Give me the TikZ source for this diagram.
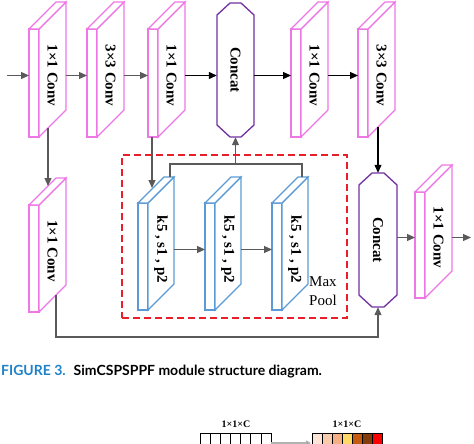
\documentclass[tikz,border=0pt]{standalone}
\usepackage{fontspec}
\setmainfont{Liberation Serif}
\newfontfamily\capfont{Lato}
\usetikzlibrary{arrows.meta,calc}
\definecolor{pinkc}{RGB}{238,119,230}
\definecolor{bluec}{RGB}{91,155,213}
\definecolor{purc}{RGB}{112,48,160}
\definecolor{redc}{RGB}{232,30,40}
\definecolor{grayc}{RGB}{90,90,90}
\definecolor{capblue}{RGB}{30,130,200}
\definecolor{h1}{RGB}{252,228,214}
\definecolor{h2}{RGB}{248,203,173}
\definecolor{h3}{RGB}{244,176,132}
\definecolor{h4}{RGB}{255,217,102}
\definecolor{h5}{RGB}{197,90,17}
\definecolor{h6}{RGB}{132,60,12}
\definecolor{h7}{RGB}{255,0,0}
\begin{document}
\begin{tikzpicture}[x=1pt,y=-1pt,
  slabline/.style={line width=1.1pt, line join=miter},
  garr/.style={draw=grayc, line width=1.1pt, -{Triangle[length=8pt,width=7pt]}},
  gline/.style={draw=grayc, line width=1.1pt},
  karr/.style={draw=black, line width=1.2pt, -{Triangle[length=8pt,width=7pt]}},
  lbl/.style={font=\bfseries\fontsize{15}{15}\selectfont, rotate=-90, inner sep=0pt},
  pics/slab/.style n args={4}{code={
    \draw[#1, slabline, fill=white] (0,0) rectangle (10,#2);
    \draw[#1, slabline, fill=white] (10,0) -- ({10+#3},{-#3}) -- ({10+#3},{#2-#3}) -- (10,#2) -- cycle;
    \draw[#1, slabline, fill=white] (0,0) -- (#3,{-#3}) -- ({10+#3},{-#3}) -- (10,0) -- cycle;
    \node[lbl] (-t) at ({10+#3/2}, {#2/2-#3/2+6}) {#4};
    \coordinate (-w) at (0, {#2/2-#3/2+6});
    \coordinate (-e) at ({10+#3}, {#2/2-#3/2+6});
  }},
  pics/concat/.style n args={2}{code={
    \draw[purc, line width=1.3pt, fill=white]
      ({-#1/2},{-#2/2+12}) -- ({-#1/2+13},{-#2/2}) -- ({#1/2-13},{-#2/2}) -- ({#1/2},{-#2/2+12})
      -- ({#1/2},{#2/2-12}) -- ({#1/2-13},{#2/2}) -- ({-#1/2+13},{#2/2}) -- ({-#1/2},{#2/2-12}) -- cycle;
    \node[minimum width=#1pt, minimum height=#2pt, inner sep=0pt] (-n) at (0,0) {};
    \node[lbl] (-t) at (0,0) {Concat};
  }}]
\useasboundingbox (0,0) rectangle (474,444);

% top row
\pic (b1) at (29,29) {slab={pinkc}{108}{27}{1×1 Conv}};
\pic (b2) at (87,29) {slab={pinkc}{108}{27}{3×3 Conv}};
\pic (b3) at (148,29) {slab={pinkc}{108}{27}{1×1 Conv}};
\pic (cc1) at (235.5,70) {concat={37}{134}};
\pic (b4) at (291,29) {slab={pinkc}{108}{27}{1×1 Conv}};
\pic (b5) at (358,29) {slab={pinkc}{108}{27}{3×3 Conv}};

% lower row
\pic (bl) at (29,205) {slab={pinkc}{107}{27}{1×1 Conv}};
\node[draw=redc, line width=1.2pt, dash pattern=on 7pt off 4pt, minimum width=225pt, minimum height=163pt, inner sep=0pt] (mp) at (234.5,236.5) {};
\pic (pA) at (138,203) {slab={bluec}{107}{26}{k5 , s1 , p2}};
\pic (pB) at (205,203) {slab={bluec}{107}{26}{k5 , s1 , p2}};
\pic (pC) at (272,203) {slab={bluec}{107}{26}{k5 , s1 , p2}};
\node[anchor=west, align=left, inner sep=0pt, font=\fontsize{15}{19}\selectfont] (mpt) at (309,291) {Max\\Pool};
\pic (cc2) at (378,240) {concat={38}{134}};
\pic (bf) at (415,192) {slab={pinkc}{106}{27}{1×1 Conv}};

% junction coordinates
\coordinate (in) at (7,0);
\coordinate (out) at (471,0);
\coordinate (j1) at (48,128);
\coordinate (j2) at (48,186);
\coordinate (j3) at (152,137);
\coordinate (j4) at (152,188);
\coordinate (pa) at (170,177);
\coordinate (pc) at (302,177);
\coordinate (ptop) at (0,164);
\coordinate (j5) at (378,127);
\coordinate (j6) at (56,295);
\coordinate (bot) at (0,337);

% connectors
\draw[garr] (in |- b1-w) -- (b1-w);
\draw[garr] (b1-e) -- (b2-w);
\draw[garr] (b2-e) -- (b3-w);
\draw[karr] (b3-e) -- (b3-e -| cc1-n.west);
\draw[karr] (cc1-n.east |- b4-w) -- (b4-w);
\draw[karr] (b4-e) -- (b5-w);
\draw[garr] (j1) -- (j2);
\draw[garr] (j3) -- (j4);
\draw[gline] (pa) -- (pa |- ptop) -- (pc |- ptop) -- (pc);
\draw[garr] (cc1-n.south |- ptop) -- (cc1-n.south);
\draw[garr] (pA-e) -- (pB-w);
\draw[garr] (pB-e) -- (pC-w);
\draw[karr] (j5) -- (cc2-n.north);
\draw[garr] (j6) -- (j6 |- bot) -| (cc2-n.south);
\draw[garr] (cc2-n.east |- bf-w) -- (bf-w);
\draw[garr] (bf-e) -- (bf-e -| out);

% caption
\node[anchor=base west, inner sep=0pt] (cap) at (1,375) {\capfont\bfseries\fontsize{14}{14}\selectfont\textcolor{capblue}{FIGURE 3.}\hspace{8pt}SimCSPSPPF module structure diagram.};

% bottom partial figure
\node[font=\bfseries\fontsize{10}{10}\selectfont, inner sep=0pt] (l1) at (236,424) {1×1×C};
\node[font=\bfseries\fontsize{10}{10}\selectfont, inner sep=0pt] (l2) at (347,424) {1×1×C};
\begin{scope}
\clip (0,0) rectangle (474,444);
\foreach \i in {0,...,6} {
  \draw[black, line width=0.6pt, fill=white] ({200+\i*10.14},433) rectangle ++(10.14,15);
}
\foreach \c [count=\i from 0] in {h1,h2,h3,h4,h5,h6,h7} {
  \draw[black, line width=0.6pt, fill=\c] ({312+\i*10},433) rectangle ++(10,15);
}
\coordinate (a1) at (271,443);
\coordinate (a2) at (311,443);
\draw[draw=black!30, line width=2pt, -{Triangle[length=5pt,width=5pt,fill=black]}] (a1) -- (a2);
\end{scope}
\end{tikzpicture}
\end{document}
